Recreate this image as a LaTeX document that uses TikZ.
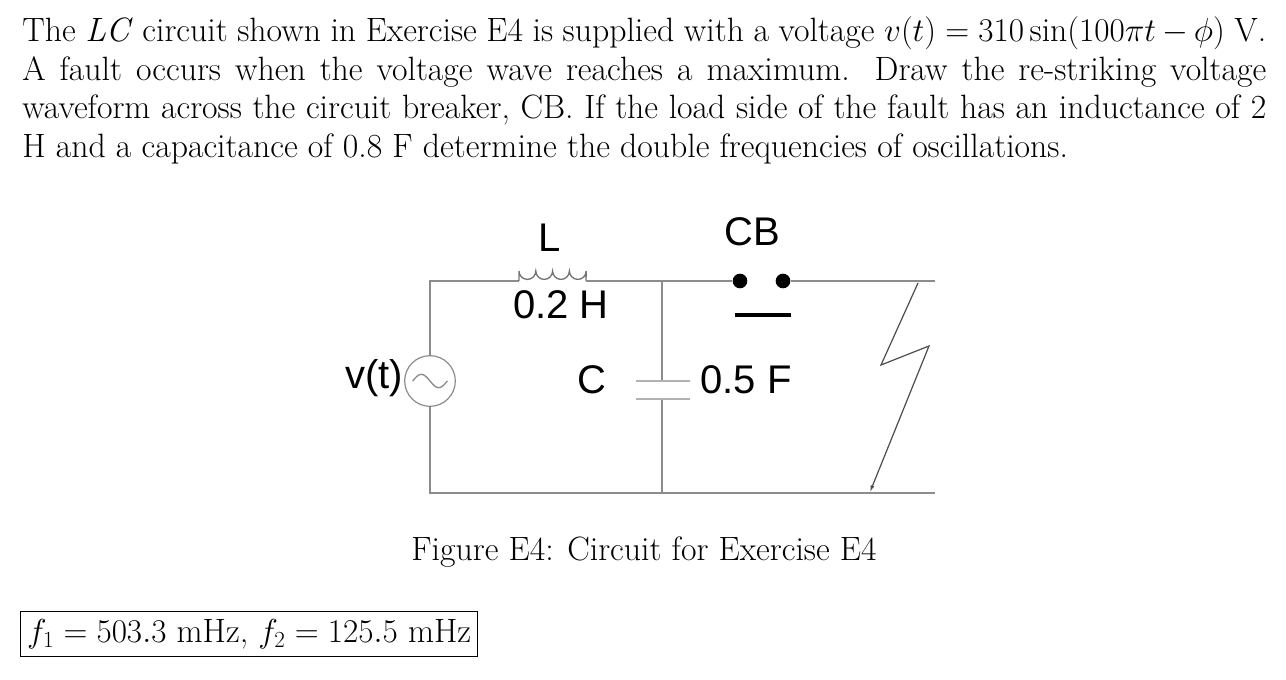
\documentclass[tikz,border=0pt]{standalone}
\usepackage{fontspec}
\newfontfamily\circfont{Liberation Sans}
\usetikzlibrary{arrows.meta}
\begin{document}
\begin{tikzpicture}[x=0.75pt,y=-0.75pt,
  wire/.style={draw=black!45,line width=1.1pt},
  ctext/.style={font=\circfont\fontsize{30}{32}\selectfont,inner sep=0pt},
  serif/.style={font=\fontsize{25.3}{29.2}\selectfont,inner sep=0pt}]
\useasboundingbox (0,0) rectangle (1286,680);
\node[serif,anchor=north west,text width=933pt,align=justify] (para) at (22,16)
{The \textit{LC} circuit shown in Exercise E4 is supplied with a voltage $v(t)=310\sin(100\pi t-\phi)$~V.\linebreak A fault occurs when the voltage wave reaches a maximum. Draw the re-striking voltage\linebreak waveform across the circuit breaker, CB. If the load side of the fault has an inductance of 2\linebreak H and a capacitance of 0.8 F determine the double frequencies of oscillations.};
% wires
\coordinate (tl) at (430,281); \coordinate (bl) at (430,493);
\coordinate (tr) at (935,281); \coordinate (br) at (935,493);
\coordinate (tm) at (662,281); \coordinate (bm) at (662,493);
\node[circle,draw=black!45,line width=0.9pt,minimum size=38pt,inner sep=0pt] (src) at (430,381) {};
\draw[black!45,line width=1pt] ([xshift=-13pt]src.center) sin ([xshift=-6.5pt,yshift=5pt]src.center) cos (src.center) sin ([xshift=6.5pt,yshift=-5pt]src.center) cos ([xshift=13pt]src.center);
\coordinate (l1) at (519,281); \coordinate (l2) at (586,281);
\draw[wire] (src.north) -- (tl) -- (l1);
\draw[black!55,line width=1pt] (l1) -- ++(0,-10)
  arc[start angle=180,end angle=0,radius=8.4] arc[start angle=180,end angle=0,radius=8.4]
  arc[start angle=180,end angle=0,radius=8.4] arc[start angle=180,end angle=0,radius=8.4]
  -- (l2);
\node[circle,fill=black,minimum size=11pt,inner sep=0pt] (d1) at (740,281) {};
\node[circle,fill=black,minimum size=11pt,inner sep=0pt] (d2) at (783,281) {};
\draw[wire] (l2) -- (tm) -- (d1);
\draw[wire] (d2) -- (tr);
\draw[black,line width=2.8pt] (735,315) -- (791,315);
\draw[wire] (src.south) -- (bl) -- (br);
% capacitor
\coordinate (c1) at (662,381); \coordinate (c2) at (662,399);
\draw[wire] (tm) -- (c1); \draw[wire] (c2) -- (bm);
\draw[black!30,line width=1.2pt] (636,381) -- (690,381) (636,399) -- (690,399);
% fault
\draw[black!70,line width=0.9pt,-{Latex[length=5pt,width=3pt]}] (918,283) -- (881,365) -- (929,346) -- (870,492);
% labels
\node[ctext] (Lt) at (550,238) {L};
\node[ctext] (Lv) at (561,305) {0.2 H};
\node[ctext] (CB) at (752,232) {CB};
\node[ctext] (vt) at (374,378) {v(t)};
\node[ctext] (Ct) at (592,380) {C};
\node[ctext] (Cv) at (746,380) {0.5 F};
\node[serif] (cap) at (644,552) {Figure E4: Circuit for Exercise E4};
\node[serif,draw,line width=0.6pt,inner xsep=5pt,inner ysep=6pt,anchor=west] (ans) at (20,634) {$f_1 = 503.3$ mHz, $f_2 = 125.5$ mHz};
\end{tikzpicture}
\end{document}
